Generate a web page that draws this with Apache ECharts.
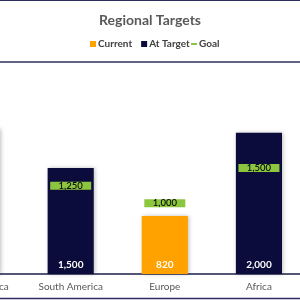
<!DOCTYPE html>
<html>
<head>
<meta charset="utf-8">
<script src="https://cdn.jsdelivr.net/npm/echarts@6/dist/echarts.min.js"></script>
<style>
    html, body { margin: 0; padding: 0; background: #fff; }
    #regionChart { width: 300px; height: 300px; }
</style>
</head>
<body>
<div id="regionChart"></div>
<script>
var regions = ['North America', 'South America', 'Europe', 'Africa'];
var currentValues = [2050, 1500, 820, 2000];
var goalValues = [2200, 1250, 1000, 1500];

// split each region into "below goal" and "at target"
var belowData = [];
var atTargetData = [];
for (var i = 0; i < regions.length; i++) {
    if (currentValues[i] >= goalValues[i]) {
        atTargetData.push(currentValues[i]);
        belowData.push('-');
    } else {
        belowData.push(currentValues[i]);
        atTargetData.push('-');
    }
}

var fontName = "Lato, 'Liberation Sans', sans-serif";
var barLabel = {
    show: true,
    position: 'insideBottom',
    distance: 4,
    color: '#ffffff',
    fontWeight: 'bold',
    fontSize: 10,
    fontFamily: fontName,
    formatter: function (p) { return p.value.toLocaleString('en-US'); }
};
var barShadow = {
    shadowBlur: 4,
    shadowColor: 'rgba(0,0,0,0.25)',
    shadowOffsetX: 1,
    shadowOffsetY: 0
};
var legendText = { color: '#404040', fontSize: 10, fontWeight: 'bold', fontFamily: fontName, padding: [0, 0, 0, -3] };

var myChart = echarts.init(document.getElementById('regionChart'));
var option = {
    animation: false,
    title: {
        text: 'Regional Targets',
        left: 'center',
        top: 8,
        textStyle: { color: '#595959', fontSize: 14, fontWeight: 'bold', fontFamily: fontName }
    },
    legend: [{
        data: ['Current', 'At Target'],
        top: 39,
        left: 90,
        padding: 0,
        itemWidth: 6,
        itemHeight: 6,
        itemGap: 9,
        icon: 'rect',
        textStyle: legendText
    }, {
        data: ['Goal'],
        top: 39,
        left: 191,
        padding: 0,
        itemWidth: 6,
        itemHeight: 2,
        icon: 'rect',
        textStyle: legendText
    }],
    grid: {
        left: -70.5,
        right: -6,
        top: 62,
        bottom: 26,
        outerBoundsMode: 'none',
        containLabel: false
    },
    xAxis: {
        type: 'category',
        data: regions,
        axisLine: { lineStyle: { color: '#1c1c4a', width: 1.5 } },
        axisTick: { show: false },
        axisLabel: { color: '#595959', fontSize: 10, margin: 8, fontFamily: fontName }
    },
    yAxis: {
        type: 'value',
        min: 0,
        max: 3000,
        show: false,
        splitLine: { show: false }
    },
    series: [{
        name: 'Current',
        type: 'bar',
        data: belowData,
        barWidth: '49%',
        barGap: '-100%',
        itemStyle: echarts.util.extend({ color: '#ffa200' }, barShadow),
        label: barLabel
    }, {
        name: 'At Target',
        type: 'bar',
        data: atTargetData,
        barWidth: '49%',
        itemStyle: echarts.util.extend({ color: '#0b0c3b' }, barShadow),
        label: barLabel
    }, {
        name: 'Goal',
        type: 'scatter',
        data: goalValues,
        symbol: 'rect',
        symbolSize: [41, 8],
        z: 5,
        itemStyle: { color: '#8cc63f', opacity: 1 },
        label: {
            show: true,
            position: 'inside',
            color: '#000000',
            textBorderWidth: 0,
            textBorderColor: 'transparent',
            fontSize: 9.5,
            fontWeight: 500,
            fontFamily: fontName,
            formatter: function (p) { return p.value.toLocaleString('en-US'); }
        }
    }],
    graphic: [{
        type: 'line',
        shape: { x1: 0, y1: 0.5, x2: 300, y2: 0.5 },
        style: { stroke: '#2e2e5e', lineWidth: 1 }
    }, {
        type: 'line',
        shape: { x1: 0, y1: 62, x2: 300, y2: 62 },
        style: { stroke: '#2e2e5e', lineWidth: 1.5 }
    }, {
        type: 'line',
        shape: { x1: 0, y1: 298.5, x2: 300, y2: 298.5 },
        style: { stroke: '#2e2e5e', lineWidth: 1.5 }
    }]
};
myChart.setOption(option);
</script>
</body>
</html>
